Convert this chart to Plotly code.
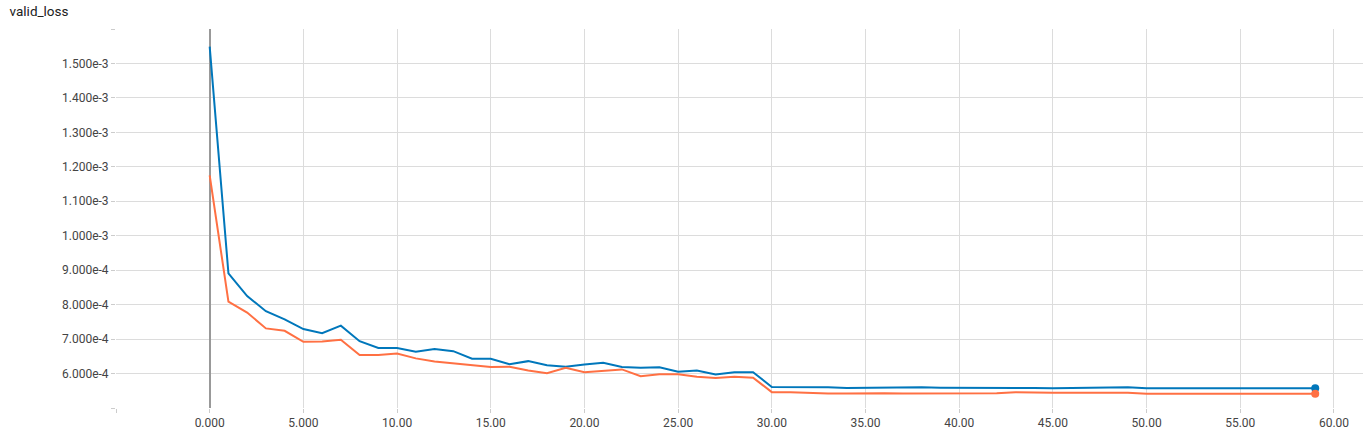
import plotly.graph_objects as go

title = "valid_loss"

steps = list(range(60))

blue_loss = [
    1.549e-3, 8.91e-4, 8.25e-4, 7.81e-4, 7.57e-4, 7.29e-4, 7.17e-4, 7.39e-4, 6.94e-4, 6.74e-4,
    6.74e-4, 6.63e-4, 6.71e-4, 6.65e-4, 6.43e-4, 6.43e-4, 6.27e-4, 6.36e-4, 6.24e-4, 6.20e-4,
    6.26e-4, 6.31e-4, 6.19e-4, 6.17e-4, 6.18e-4, 6.05e-4, 6.09e-4, 5.97e-4, 6.04e-4, 6.04e-4,
    5.61e-4, 5.61e-4, 5.60e-4, 5.60e-4, 5.58e-4, 5.59e-4, 5.59e-4, 5.59e-4, 5.60e-4, 5.59e-4,
    5.59e-4, 5.59e-4, 5.59e-4, 5.60e-4, 5.58e-4, 5.57e-4, 5.58e-4, 5.58e-4, 5.59e-4, 5.60e-4,
    5.57e-4, 5.57e-4, 5.57e-4, 5.57e-4, 5.57e-4, 5.57e-4, 5.57e-4, 5.57e-4, 5.57e-4, 5.57e-4,
]

orange_loss = [
    1.175e-3, 8.09e-4, 7.77e-4, 7.31e-4, 7.24e-4, 6.92e-4, 6.93e-4, 6.98e-4, 6.54e-4, 6.54e-4,
    6.58e-4, 6.44e-4, 6.35e-4, 6.30e-4, 6.23e-4, 6.19e-4, 6.20e-4, 6.09e-4, 6.01e-4, 6.17e-4,
    6.04e-4, 6.07e-4, 6.12e-4, 5.92e-4, 5.98e-4, 5.98e-4, 5.91e-4, 5.87e-4, 5.91e-4, 5.88e-4,
    5.46e-4, 5.46e-4, 5.43e-4, 5.42e-4, 5.42e-4, 5.43e-4, 5.43e-4, 5.42e-4, 5.42e-4, 5.42e-4,
    5.42e-4, 5.43e-4, 5.43e-4, 5.46e-4, 5.44e-4, 5.44e-4, 5.44e-4, 5.44e-4, 5.44e-4, 5.44e-4,
    5.41e-4, 5.41e-4, 5.41e-4, 5.41e-4, 5.41e-4, 5.41e-4, 5.41e-4, 5.41e-4, 5.41e-4, 5.41e-4,
]

x_tickvals = [-5, 0, 5, 10, 15, 20, 25, 30, 35, 40, 45, 50, 55, 60]
x_ticktext = ["", "0.000", "5.000", "10.00", "15.00", "20.00", "25.00", "30.00",
              "35.00", "40.00", "45.00", "50.00", "55.00", "60.00"]

y_tickvals = [5e-4, 6e-4, 7e-4, 8e-4, 9e-4, 1.0e-3, 1.1e-3, 1.2e-3, 1.3e-3, 1.4e-3, 1.5e-3, 1.6e-3]
y_ticktext = ["", "6.000e-4", "7.000e-4", "8.000e-4", "9.000e-4", "1.000e-3", "1.100e-3",
              "1.200e-3", "1.300e-3", "1.400e-3", "1.500e-3", ""]

blue = "#0077bb"
orange = "#ff7043"

fig = go.Figure()
for ys, col in [(blue_loss, blue), (orange_loss, orange)]:
    fig.add_trace(go.Scatter(x=steps, y=ys, mode="lines",
                             line=dict(color=col, width=2), hoverinfo="skip"))
    fig.add_trace(go.Scatter(x=[steps[-1]], y=[ys[-1]], mode="markers",
                             marker=dict(color=col, size=8), hoverinfo="skip"))

fig.update_layout(
    width=1363, height=432,
    margin=dict(l=116, r=0, t=29, b=24),
    paper_bgcolor="white", plot_bgcolor="white",
    showlegend=False,
    font=dict(family="Roboto, sans-serif", size=12, color="#444"),
    title=dict(text=title, x=0.007, xanchor="left", y=0.985, yanchor="top",
               font=dict(size=13.5, color="#212121")),
)
fig.update_xaxes(range=[-5, 61.55], tickvals=x_tickvals, ticktext=x_ticktext,
                 showgrid=True, gridcolor="#dcdcdc", gridwidth=1,
                 zeroline=True, zerolinecolor="#999", zerolinewidth=1.5,
                 ticks="outside", ticklen=4, tickcolor="#ccc", showline=False)
fig.update_yaxes(range=[5e-4, 1.6e-3], tickvals=y_tickvals, ticktext=y_ticktext,
                 showgrid=True, gridcolor="#dcdcdc", gridwidth=1, zeroline=False,
                 ticks="outside", ticklen=4, tickcolor="#ccc", showline=False)

# the page body has an 8px default margin; drop it so the figure fills the window
fig.write_html("out.html", config={"displayModeBar": False},
               post_script="document.body.style.margin='0';")
